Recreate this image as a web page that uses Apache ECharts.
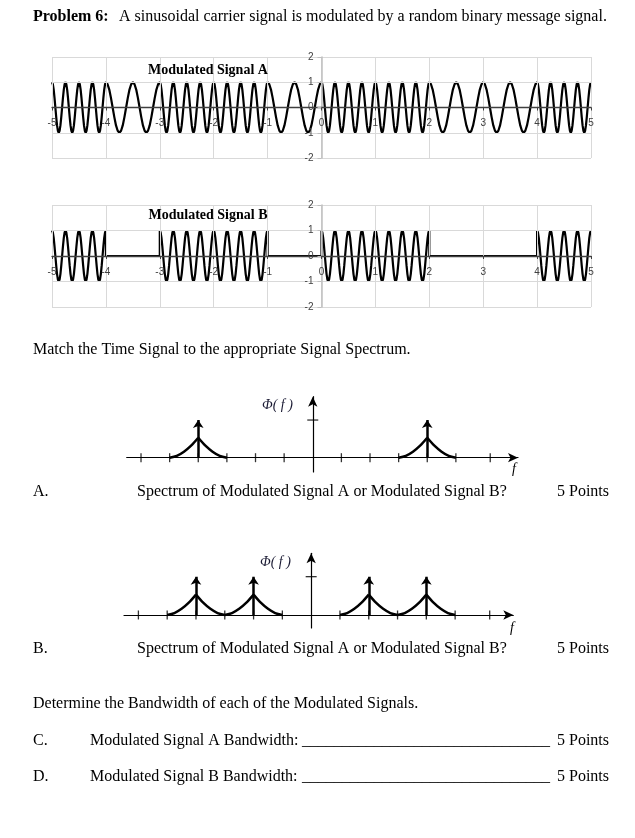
<!DOCTYPE html>
<html>
<head>
<meta charset="utf-8">
<script src="https://cdn.jsdelivr.net/npm/echarts@6/dist/echarts.min.js"></script>
<style>
    html, body { margin: 0; padding: 0; background: #fff; }
    #chart { width: 635px; height: 838px; }
</style>
</head>
<body>
<div id="chart"></div>
<script>
// message bits, one per unit of time from t = -5
const messageBits = [1, 0, 1, 1, 0, 1, 1, 0, 0, 1];
const timeStart = -5;
const markCycles = 4;  // carrier cycles per unit for a 1
const spaceCycles = 2; // cycles per unit for a 0 (signal A)
const carrierCycle = [1, 0.92, 0.71, 0.38, 0, -0.38, -0.71, -0.92, -1, -0.92, -0.71, -0.38, 0, 0.38, 0.71, 0.92];

// spectrum sketches
const specTicks = [-6, -5, -4, -3, -2, -1, 1, 2, 3, 4, 5, 6.2];
const impulsesA = [-4, 4];
const impulsesB = [-4, -2, 2, 4];
const impulseHeight = 1;
const lobeOffsets = [-1, -0.75, -0.5, -0.25, 0];
const lobeHeights = [0, 0.05, 0.16, 0.32, 0.53];

function tile(t0, cycles) {
    const pts = [];
    for (let c = 0; c < cycles; c++) {
        carrierCycle.forEach((v, k) => {
            pts.push([t0 + (c + k / carrierCycle.length) / cycles, v]);
        });
    }
    return pts;
}

function buildSignalA() {
    let pts = [];
    messageBits.forEach((b, i) => {
        pts = pts.concat(tile(timeStart + i, b ? markCycles : spaceCycles));
    });
    pts.push([timeStart + messageBits.length, carrierCycle[0]]);
    return pts;
}

// on-off keyed: carrier for a 1, flat zero for a 0
function buildSignalB() {
    let pts = [];
    messageBits.forEach((b, i) => {
        const t0 = timeStart + i;
        if (b) {
            pts = pts.concat(tile(t0, markCycles));
        } else {
            if (i > 0 && messageBits[i - 1]) {
                pts.push([t0, carrierCycle[0]]);
            }
            pts.push([t0, 0], [t0 + 1, 0]);
        }
    });
    pts.push([timeStart + messageBits.length, carrierCycle[0]]);
    return pts;
}

function lobeSeries(centres, axisIdx) {
    const list = [];
    centres.forEach(f0 => {
        const left = lobeOffsets.map((d, k) => [f0 + d, lobeHeights[k]]);
        const right = lobeOffsets.map((d, k) => [f0 - d, lobeHeights[k]]).reverse();
        [left, right].forEach(half => {
            list.push({
                type: 'line', xAxisIndex: axisIdx, yAxisIndex: axisIdx,
                data: half, smooth: 0.3, symbol: 'none',
                lineStyle: { color: '#000', width: 2.5 }
            });
        });
    });
    return list;
}

function tickSeries(axisIdx) {
    return [{
        type: 'scatter', xAxisIndex: axisIdx, yAxisIndex: axisIdx,
        data: specTicks.map(f => [f, 0]),
        symbol: 'rect', symbolSize: [1.3, 9],
        itemStyle: { color: '#000' }
    }, {
        type: 'scatter', xAxisIndex: axisIdx, yAxisIndex: axisIdx,
        data: [[0, impulseHeight]],
        symbol: 'rect', symbolSize: [11, 1.3],
        itemStyle: { color: '#000' }
    }];
}

function impulseSeries(centres, axisIdx) {
    return {
        type: 'lines', coordinateSystem: 'cartesian2d',
        xAxisIndex: axisIdx, yAxisIndex: axisIdx,
        data: centres.map(f => ({ coords: [[f, 0], [f, impulseHeight]] })),
        symbol: ['none', 'arrow'], symbolSize: 8,
        lineStyle: { color: '#000', width: 2.5, opacity: 1 },
        z: 4
    };
}

// time plots: axes sit in the middle of the grid (x axis at y=0, y axis at x=0)
const timeX = (gi, halfH) => ({
    type: 'value', gridIndex: gi, min: -5, max: 5, interval: 1, z: 5,
    position: 'bottom', offset: -halfH,
    axisLine: { onZero: false, lineStyle: { color: '#404040', width: 1.3 } },
    axisTick: { length: 3, lineStyle: { color: '#404040' } },
    axisLabel: { color: '#404040', fontSize: 10, fontFamily: 'Liberation Sans', margin: 11 },
    splitLine: { lineStyle: { color: '#d9d9d9', width: 1 } }
});
const timeY = (gi) => ({
    type: 'value', gridIndex: gi, min: -2, max: 2, interval: 1, z: 5,
    position: 'left', offset: -269.5,
    axisLine: { show: true, onZero: false, lineStyle: { color: '#bfbfbf', width: 1.5 } },
    axisTick: { show: true, length: 4, lineStyle: { color: '#bfbfbf' } },
    axisLabel: { color: '#404040', fontSize: 10, fontFamily: 'Liberation Sans', margin: 8 },
    splitLine: { lineStyle: { color: '#d9d9d9', width: 1 } }
});
const specX = (gi, min, max) => ({
    type: 'value', gridIndex: gi, min: min, max: max,
    axisLine: { onZero: true, symbol: ['none', 'arrow'], symbolSize: [7, 10], lineStyle: { color: '#000', width: 1.2 } },
    axisTick: { show: false }, axisLabel: { show: false }, splitLine: { show: false }
});
const specY = (gi, min, max) => ({
    type: 'value', gridIndex: gi, min: min, max: max,
    axisLine: { show: true, onZero: true, symbol: ['none', 'arrow'], symbolSize: [7, 10], lineStyle: { color: '#000', width: 1.2 } },
    axisTick: { show: false }, axisLabel: { show: false }, splitLine: { show: false }
});

const serif = '"Liberation Serif", "Times New Roman", serif';
function txt(x, y, s, extra) {
    return {
        type: 'text', x: x, y: y, silent: true, z: 10,
        style: Object.assign({
            text: s, fill: '#000', fontFamily: serif, fontSize: 16,
            align: 'left', verticalAlign: 'middle'
        }, extra || {})
    };
}

const chart = echarts.init(document.getElementById('chart'));
chart.setOption({
    animation: false,
    backgroundColor: '#fff',
    grid: [
        { left: 52, top: 57, width: 539, height: 101 },
        { left: 52, top: 205, width: 539, height: 102 },
        { left: 126.7, top: 396.7, width: 391.3, height: 75.3 },
        { left: 124, top: 553.3, width: 389.3, height: 74.7 }
    ],
    xAxis: [timeX(0, 50.5), timeX(1, 51), specX(2, -6.5, 7.17), specX(3, -6.5, 7.02)],
    yAxis: [timeY(0), timeY(1), specY(2, -0.38, 1.62), specY(3, -0.34, 1.61)],
    series: [
        {
            type: 'line', xAxisIndex: 0, yAxisIndex: 0, data: buildSignalA(),
            symbol: 'none', lineStyle: { color: '#000', width: 2.2 }, z: 1
        },
        {
            type: 'line', xAxisIndex: 1, yAxisIndex: 1, data: buildSignalB(),
            symbol: 'none', lineStyle: { color: '#000', width: 2.2 }, z: 1
        }
    ].concat(
        lobeSeries(impulsesA, 2), tickSeries(2), [impulseSeries(impulsesA, 2)],
        lobeSeries(impulsesB, 3), tickSeries(3), [impulseSeries(impulsesB, 3)]
    ),
    graphic: [
        txt(33, 17, 'Problem 6:', { fontWeight: 'bold' }),
        txt(119, 17, 'A sinusoidal carrier signal is modulated by a random binary message signal.'),
        txt(208, 70, 'Modulated Signal A', { fontWeight: 'bold', fontSize: 14, align: 'center' }),
        txt(208, 215, 'Modulated Signal B', { fontWeight: 'bold', fontSize: 14, align: 'center' }),
        txt(33, 350, 'Match the Time Signal to the appropriate Signal Spectrum.'),
        txt(262, 405, 'Φ( f )', { fontStyle: 'italic', fontSize: 14, fill: '#1a1a33' }),
        txt(512, 469, 'f', { fontStyle: 'italic', fontSize: 14 }),
        txt(33, 492, 'A.'),
        txt(137, 492, 'Spectrum of Modulated Signal A or Modulated Signal B?'),
        txt(557, 492, '5 Points'),
        txt(260, 562, 'Φ( f )', { fontStyle: 'italic', fontSize: 14, fill: '#1a1a33' }),
        txt(510, 628, 'f', { fontStyle: 'italic', fontSize: 14 }),
        txt(33, 649, 'B.'),
        txt(137, 649, 'Spectrum of Modulated Signal A or Modulated Signal B?'),
        txt(557, 649, '5 Points'),
        txt(33, 704, 'Determine the Bandwidth of each of the Modulated Signals.'),
        txt(33, 741, 'C.'),
        txt(90, 741, 'Modulated Signal A Bandwidth:'),
        txt(302, 741, '_______________________________'),
        txt(557, 741, '5 Points'),
        txt(33, 777, 'D.'),
        txt(90, 777, 'Modulated Signal B Bandwidth:'),
        txt(302, 777, '_______________________________'),
        txt(557, 777, '5 Points')
    ]
});
</script>
</body>
</html>
